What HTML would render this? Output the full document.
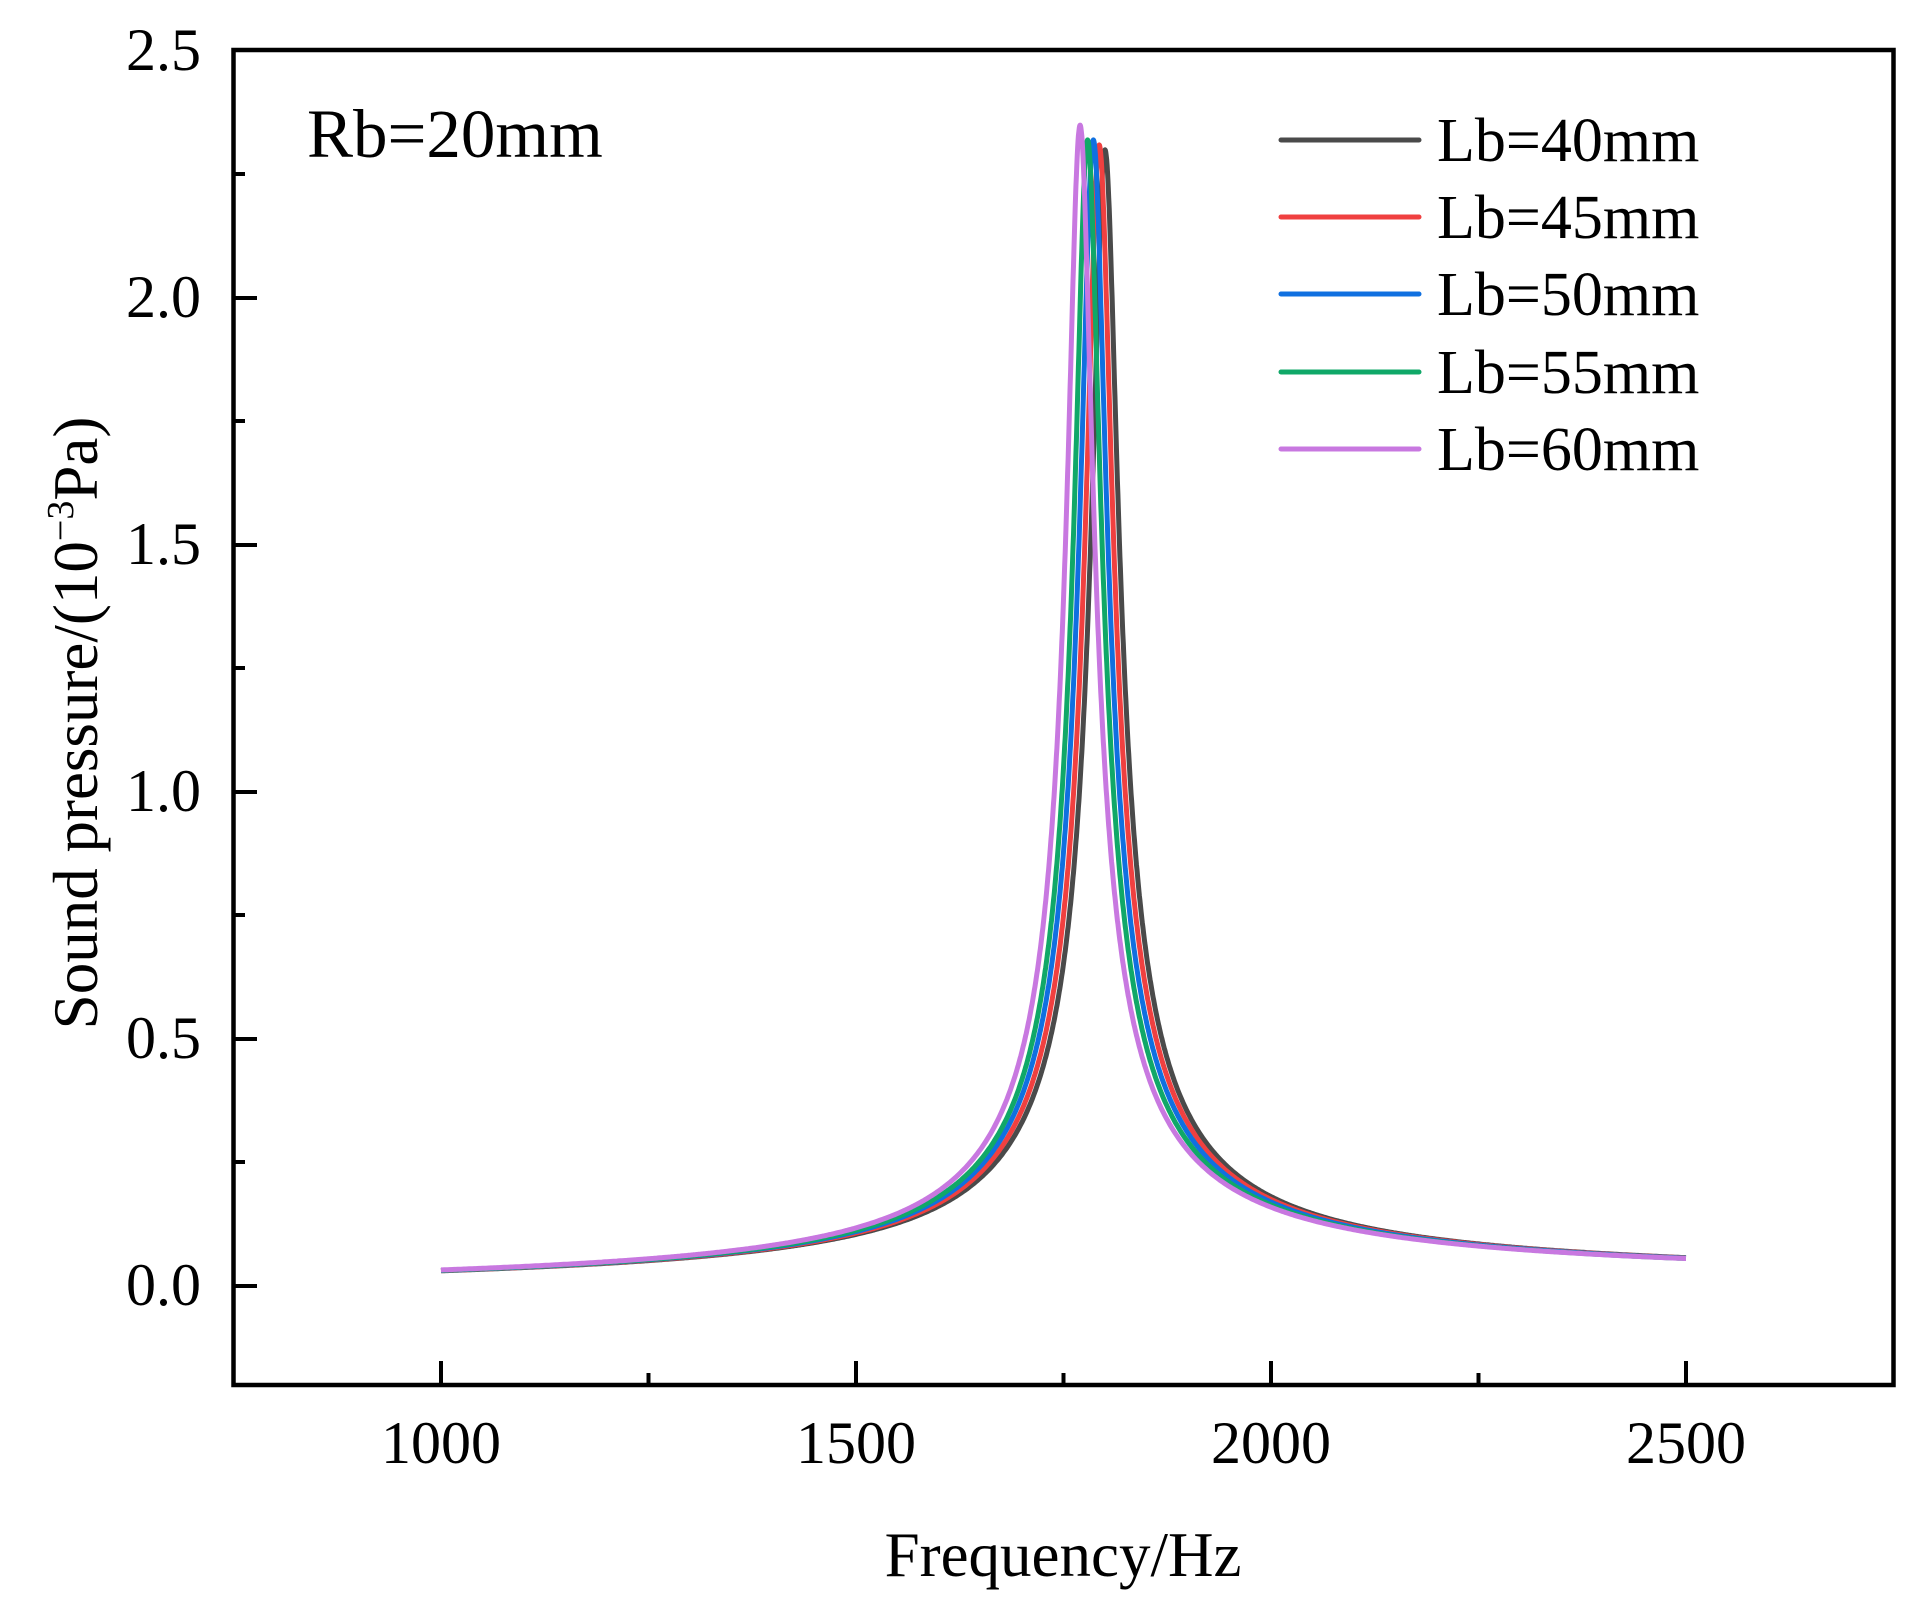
<!DOCTYPE html>
<html><head><meta charset="utf-8"><style>
html,body{margin:0;padding:0;background:#fff;}
svg text{font-family:"Liberation Serif",serif;fill:#000;}
</style></head><body>
<svg id="s" width="1931" height="1619" xmlns="http://www.w3.org/2000/svg">
<g id="curves" fill="none" stroke-width="5" stroke-linejoin="round"></g>
<rect x="233.5" y="50" width="1660" height="1335" fill="none" stroke="#000" stroke-width="4.5"/>
<g stroke="#000" stroke-width="4">
<line x1="441" y1="1385" x2="441" y2="1361"/><line x1="856" y1="1385" x2="856" y2="1361"/>
<line x1="1271" y1="1385" x2="1271" y2="1361"/><line x1="1686" y1="1385" x2="1686" y2="1361"/>
<line x1="648.5" y1="1385" x2="648.5" y2="1373"/><line x1="1063.5" y1="1385" x2="1063.5" y2="1373"/><line x1="1478.5" y1="1385" x2="1478.5" y2="1373"/>
<line x1="233" y1="1286" x2="257" y2="1286"/><line x1="233" y1="1039" x2="257" y2="1039"/>
<line x1="233" y1="792" x2="257" y2="792"/><line x1="233" y1="545" x2="257" y2="545"/>
<line x1="233" y1="298" x2="257" y2="298"/>
<line x1="233" y1="1162" x2="245" y2="1162"/><line x1="233" y1="915" x2="245" y2="915"/>
<line x1="233" y1="668" x2="245" y2="668"/><line x1="233" y1="421" x2="245" y2="421"/><line x1="233" y1="174" x2="245" y2="174"/>
</g>
<g font-size="60" text-anchor="end">
<text x="201" y="70">2.5</text><text x="201" y="317">2.0</text><text x="201" y="564">1.5</text>
<text x="201" y="811">1.0</text><text x="201" y="1058">0.5</text><text x="201" y="1305">0.0</text>
</g>
<g font-size="60" text-anchor="middle">
<text x="441" y="1463">1000</text><text x="856" y="1463">1500</text>
<text x="1271" y="1463">2000</text><text x="1686" y="1463">2500</text>
</g>
<text x="1063" y="1576" font-size="63" text-anchor="middle">Frequency/Hz</text>
<text transform="translate(97,723) rotate(-90)" font-size="63" text-anchor="middle">Sound pressure/(10<tspan font-size="38" dy="-24">−3</tspan><tspan dy="24">Pa)</tspan></text>
<text x="307" y="157" font-size="69">Rb=20mm</text>
<g stroke-width="5" stroke-linecap="round">
<line x1="1281" y1="140" x2="1419" y2="140" stroke="#4a4a4a"/>
<line x1="1281" y1="217" x2="1419" y2="217" stroke="#f04040"/>
<line x1="1281" y1="294" x2="1419" y2="294" stroke="#1070e0"/>
<line x1="1281" y1="372" x2="1419" y2="372" stroke="#10a868"/>
<line x1="1281" y1="449" x2="1419" y2="449" stroke="#c878e0"/>
</g>
<g font-size="62">
<text x="1437" y="161">Lb=40mm</text><text x="1437" y="238">Lb=45mm</text>
<text x="1437" y="315">Lb=50mm</text><text x="1437" y="393">Lb=55mm</text>
<text x="1437" y="470">Lb=60mm</text>
</g>
</svg>
<script>
var S=[["#4a4a4a",1800,2.30],["#f04040",1793,2.31],["#1070e0",1786,2.32],["#10a868",1779,2.32],["#c878e0",1770,2.35]];
var g=document.getElementById("curves"),Q=60;
function X(f){return 233.5+(f-750)/500*415;}function Y(p){return 1286-p*494;}
S.forEach(function(s){var d="";for(var f=1000;f<=2500;f+=(Math.abs(f-s[1])<80?0.5:2)){var r=f/s[1]-s[1]/f;var p=s[2]/Math.sqrt(1+Q*Q*r*r);d+=(d?"L":"M")+X(f).toFixed(1)+" "+Y(p).toFixed(1);}
var e=document.createElementNS("http://www.w3.org/2000/svg","path");e.setAttribute("d",d);e.setAttribute("stroke",s[0]);g.appendChild(e);});
</script>
</body></html>
